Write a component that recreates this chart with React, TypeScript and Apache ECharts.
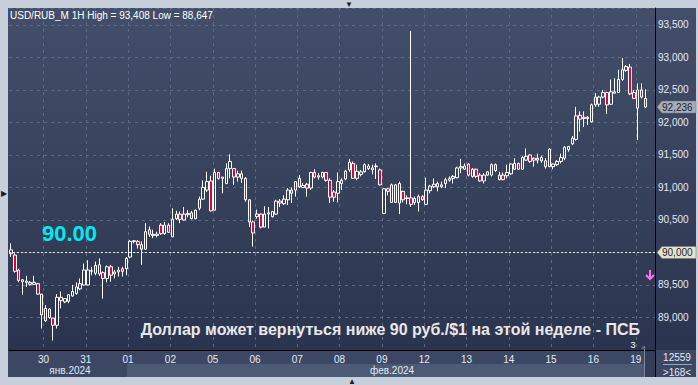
import React, { useEffect, useRef } from 'react';
import * as echarts from 'echarts';

// Each candle: [open, close, low, high]
const jan29 = [[89.98,90.04,89.93,90.14],[89.96,89.71,89.69,89.99],[89.73,89.57,89.54,89.75],[89.55,89.58,89.35,89.59],[89.54,89.56,89.47,89.64],[89.54,89.51,89.49,89.56],[89.51,89.54,89.50,89.64],[89.52,89.36,89.35,89.53],[89.36,89.04,88.83,89.36]];
const jan30 = [[88.95,89.14,88.93,89.19],[89.13,89.00,88.98,89.14],[88.99,88.88,88.647,88.99],[88.88,89.31,88.83,89.36],[89.31,89.26,89.14,89.40],[89.24,89.29,89.22,89.30],[89.25,89.35,89.22,89.36],[89.33,89.40,89.32,89.50],[89.37,89.47,89.35,89.54],[89.44,89.52,89.42,89.60],[89.50,89.73,89.49,89.83]];
const jan31 = [[89.50,89.73,89.50,89.88],[89.71,89.72,89.65,89.78],[89.80,89.68,89.65,89.86],[89.67,89.81,89.64,89.91],[89.69,89.60,89.29,89.71],[89.60,89.78,89.54,89.80],[89.78,89.65,89.55,89.81],[89.67,89.70,89.60,89.73],[89.70,89.73,89.63,89.78],[89.75,89.71,89.63,89.78],[89.75,89.91,89.65,89.93]];
const feb01 = [[89.93,90.17,89.91,90.19],[90.17,90.18,90.14,90.19],[90.17,90.12,90.06,90.19],[90.12,90.05,89.81,90.17],[90.05,90.32,90.04,90.45],[90.35,90.28,90.24,90.40],[90.28,90.26,90.22,90.35],[90.26,90.28,90.23,90.32],[90.42,90.29,90.27,90.45],[90.29,90.42,90.27,90.47],[90.42,90.31,90.30,90.45]];
const feb02 = [[90.24,90.51,90.24,90.68],[90.52,90.59,90.50,90.64],[90.59,90.51,90.45,90.63],[90.50,90.59,90.49,90.70],[90.60,90.58,90.54,90.65],[90.61,90.52,90.51,90.64],[90.52,90.65,90.51,90.66],[90.68,90.82,90.65,90.86],[90.82,91.00,90.81,91.11],[90.96,91.09,90.93,91.24],[91.10,90.64,90.63,91.18]];
const feb05 = [[90.65,91.23,90.65,91.29],[91.23,91.14,91.12,91.24],[91.14,91.16,90.91,91.16],[91.06,91.29,91.05,91.37],[91.29,91.40,91.14,91.51],[91.29,91.16,91.04,91.30],[91.16,91.21,91.09,91.26],[91.21,91.14,91.07,91.26],[91.14,90.81,90.78,91.16],[90.81,90.47,90.39,90.82],[90.47,90.30,90.09,90.49]];
const feb06 = [[90.55,90.59,90.52,90.66],[90.59,90.39,90.37,90.60],[90.39,90.59,90.39,90.71],[90.59,90.61,90.37,90.70],[90.55,90.63,90.54,90.64],[90.59,90.79,90.58,90.81],[90.79,90.76,90.70,90.82],[90.75,90.82,90.73,90.88],[90.81,90.96,90.73,90.99],[90.96,90.91,90.76,91.00],[90.96,91.09,90.86,91.09]];
const feb07 = [[91.14,91.01,90.99,91.19],[91.00,91.03,90.99,91.07],[91.05,90.99,90.86,91.07],[90.99,91.23,90.96,91.24],[91.23,91.16,91.14,91.28],[91.16,91.18,91.12,91.22],[91.16,91.23,91.14,91.24],[91.23,91.11,91.09,91.24],[91.11,90.85,90.76,91.14],[90.93,90.85,90.78,90.96],[90.91,91.09,90.77,91.23]];
const feb08 = [[91.06,91.11,90.96,91.14],[91.13,91.25,91.11,91.27],[91.27,91.39,91.24,91.44],[91.37,91.14,91.13,91.40],[91.14,91.25,91.11,91.35],[91.20,91.24,91.17,91.27],[91.24,91.35,91.23,91.37],[91.29,91.33,91.27,91.36],[91.30,91.27,91.20,91.35],[91.32,91.33,91.13,91.37],[91.27,91.04,91.03,91.29]];
const feb09 = [[90.60,90.98,90.59,90.99],[90.98,90.94,90.88,90.99],[90.77,91.04,90.76,91.06],[91.04,90.77,90.76,91.05],[90.76,91.06,90.59,91.09],[90.94,90.81,90.77,90.95],[90.83,90.84,90.74,90.88],[90.84,90.74,90.70,93.408],[90.77,90.83,90.73,90.86],[90.77,90.86,90.63,90.89],[90.86,90.81,90.79,90.88]];
const feb12 = [[90.74,90.96,90.73,91.15],[90.95,91.02,90.91,91.04],[91.01,91.05,90.99,91.14],[91.06,91.01,90.94,91.09],[91.01,91.04,90.99,91.09],[91.06,91.12,90.99,91.15],[91.11,91.14,91.09,91.17],[91.14,91.17,91.06,91.19],[91.15,91.30,91.14,91.32],[91.30,91.32,91.22,91.44],[91.28,91.33,91.27,91.37]];
const feb13 = [[91.36,91.19,91.17,91.37],[91.17,91.28,91.15,91.30],[91.28,91.17,91.14,91.29],[91.19,91.10,91.09,91.22],[91.10,91.19,91.06,91.22],[91.19,91.24,91.18,91.25],[91.19,91.35,91.17,91.37],[91.35,91.26,91.24,91.37],[91.12,91.19,91.11,91.24],[91.19,91.12,91.11,91.23],[91.18,91.23,91.14,91.35]];
const feb14 = [[91.21,91.36,91.19,91.37],[91.28,91.37,91.27,91.45],[91.37,91.28,91.27,91.38],[91.28,91.46,91.27,91.48],[91.42,91.48,91.41,91.60],[91.50,91.40,91.38,91.51],[91.42,91.45,91.32,91.46],[91.45,91.42,91.37,91.52],[91.46,91.41,91.38,91.49],[91.41,91.32,91.29,91.45],[91.32,91.59,91.31,91.60]];
const feb15 = [[91.32,91.36,91.28,91.37],[91.35,91.40,91.33,91.42],[91.40,91.46,91.37,91.52],[91.45,91.62,91.42,91.64],[91.58,91.63,91.55,91.64],[91.67,91.76,91.65,91.79],[91.74,92.10,91.72,92.24],[92.11,92.05,91.86,92.17],[92.06,92.08,91.93,92.17],[92.08,92.06,91.96,92.10],[92.01,92.27,92.00,92.29]];
const feb16 = [[92.27,92.39,92.24,92.45],[92.28,92.39,92.24,92.41],[92.39,92.46,92.37,92.50],[92.46,92.27,92.13,92.47],[92.28,92.47,92.27,92.66],[92.45,92.47,92.45,92.68],[92.46,92.66,92.45,92.81],[92.66,92.81,92.64,92.99],[92.80,92.86,92.78,92.88],[92.85,92.44,92.42,92.90],[92.46,92.37,92.36,92.50]];
const feb19 = [[92.22,92.50,91.73,92.60],[92.50,92.39,92.37,92.60],[92.37,92.236,92.22,92.51]];

const dayLabels = ['29','30','31','01','02','05','06','07','08','09','12','13','14','15','16','19'];
const days = [jan29, jan30, jan31, feb01, feb02, feb05, feb06, feb07, feb08, feb09, feb12, feb13, feb14, feb15, feb16, feb19];
const emptySlots = 2;
const yTickStep = 0.5;
const yMin = 88.5;
const yMax = 93.76;
const levelLine = 90;
const headerText = 'USD/RUB_M 1H High = 93,408 Low = 88,647';
const levelText = '90.00';
const newsText = 'Доллар может вернуться ниже 90 руб./$1 на этой неделе - ПСБ';
const monthLabels = ['янв.2024', 'фев.2024'];

const FONT = '"Liberation Sans", Arial, sans-serif';

export default function App() {
  const ref = useRef<HTMLDivElement>(null);
  useEffect(() => {
    if (!ref.current) return;
    const chart = echarts.init(ref.current, null, { renderer: 'svg' });

    const categories: string[] = [];
    const dayStart = new Set<number>();
    const data: number[][] = [];
    days.forEach((d, di) => {
      d.forEach((c, k) => {
        if (k === 0) dayStart.add(categories.length);
        categories.push(dayLabels[di] + '|' + k);
        data.push(c);
      });
    });
    for (let i = 0; i < emptySlots; i++) categories.push('|pad' + i);

    const fmt = (v: number) => v.toFixed(3).replace('.', ',');

    chart.setOption({
      animation: false,
      backgroundColor: '#c7cfda',
      grid: { left: 9, right: 43, top: 8, bottom: 35, show: false },
      xAxis: {
        type: 'category',
        data: categories,
        boundaryGap: true,
        axisLine: { show: true, onZero: false, lineStyle: { color: '#000000', width: 1 } },
        axisTick: { show: false },
        axisLabel: {
          interval: (i: number) => i > 0 && dayStart.has(i),
          formatter: (v: string) => v.split('|')[0],
          color: '#e3e9f5',
          fontSize: 10,
          fontFamily: FONT,
          margin: 4,
          padding: [0, 4, 0, 0],
        },
        splitLine: {
          show: true,
          interval: (i: number) => i > 0 && dayStart.has(i),
          lineStyle: { color: '#5c6984', type: [3, 4], width: 1 },
        },
      },
      yAxis: {
        type: 'value',
        position: 'right',
        min: yMin,
        max: yMax,
        interval: yTickStep,
        scale: true,
        axisLine: { show: true, lineStyle: { color: '#000000', width: 1 } },
        axisTick: { show: false },
        axisLabel: {
          color: '#e3e9f5',
          fontSize: 10,
          fontFamily: FONT,
          margin: 3,
          formatter: (v: number) => {
            const r = Math.round(v / yTickStep) * yTickStep;
            if (Math.abs(r - v) > 1e-6 || v <= yMin + 1e-6) return '';
            if (Math.abs(v - levelLine) < 1e-6) return ''; // covered by the level tag
            return fmt(v);
          },
        },
        splitLine: { show: true, lineStyle: { color: '#5c6984', type: [3, 4], width: 1 } },
      },
      series: [
        {
          type: 'candlestick',
          data,
          barWidth: 3,
          itemStyle: {
            color: 'rgba(0,0,0,0)',
            color0: '#e6003a',
            borderColor: '#ffffff',
            borderColor0: '#ffffff',
            borderWidth: 1,
          },
          markLine: {
            silent: true,
            symbol: 'none',
            label: { show: false },
            lineStyle: { color: '#e8e8e8', type: [2, 2], width: 1 },
            data: [{ yAxis: levelLine }],
          },
        },
      ],
    });

    const lastClose = feb19[feb19.length - 1][1];
    const yLast = chart.convertToPixel({ yAxisIndex: 0 }, lastClose) as number;
    const yLevel = chart.convertToPixel({ yAxisIndex: 0 }, levelLine) as number;

    const bgGrad = new echarts.graphic.LinearGradient(0, 0, 0, 1, [
      { offset: 0, color: '#434f6a' },
      { offset: 1, color: '#2b344e' },
    ]);

    const tag = (y: number, text: string, fill: string) => [
      {
        type: 'polygon',
        z: 20,
        shape: { points: [[657, y], [662, y - 6], [696, y - 6], [696, y + 6], [662, y + 6]] },
        style: { fill, stroke: '#6a7080', lineWidth: 0.5 },
      },
      {
        type: 'text', z: 21, x: 662, y,
        style: { text, fill: '#1c2336', font: `10px ${FONT}`, verticalAlign: 'middle', align: 'left' },
      },
    ];

    chart.setOption({
      graphic: [
        // backgrounds
        { type: 'rect', z: -10, shape: { x: 8, y: 8, width: 688, height: 342 }, style: { fill: bgGrad } },
        { type: 'rect', z: -10, shape: { x: 8, y: 350, width: 647, height: 27 }, style: { fill: '#3b4763' } },
        { type: 'rect', z: -9, shape: { x: 127, y: 364, width: 518, height: 13 }, style: { fill: '#4d5a75' } },
        { type: 'rect', z: -9, shape: { x: 645, y: 350, width: 10, height: 27 }, style: { fill: '#323d58' } },
        { type: 'line', z: 5, shape: { x1: 644.5, y1: 346, x2: 644.5, y2: 377 }, style: { stroke: '#7d879b', lineWidth: 1 } },
        { type: 'rect', z: -10, shape: { x: 655, y: 350, width: 41, height: 27 }, style: { fill: '#3b4763' } },
        { type: 'line', z: 5, shape: { x1: 655.5, y1: 350, x2: 655.5, y2: 377 }, style: { stroke: '#000000', lineWidth: 1 } },
        { type: 'line', z: 5, shape: { x1: 663, y1: 364.5, x2: 692, y2: 364.5 }, style: { stroke: '#9aa4b8', lineWidth: 1 } },
        // frame arrows
        { type: 'text', z: 5, x: 4, y: 193, style: { text: '▶', fill: '#1b1f2a', font: `8px ${FONT}`, align: 'center', verticalAlign: 'middle' } },
        { type: 'text', z: 5, x: 349, y: 4, style: { text: '▼', fill: '#1b1f2a', font: `8px ${FONT}`, align: 'center', verticalAlign: 'middle' } },
        { type: 'text', z: 5, x: 352, y: 381, style: { text: '▲', fill: '#1b1f2a', font: `8px ${FONT}`, align: 'center', verticalAlign: 'middle' } },
        // texts
        { type: 'text', z: 10, x: 10, y: 15, style: { text: headerText, fill: '#ffffff', font: `10px ${FONT}`, verticalAlign: 'middle', align: 'left' } },
        { type: 'text', z: 10, x: 42, y: 233, style: { text: levelText, fill: '#00e8f2', font: `bold 22px ${FONT}`, verticalAlign: 'middle', align: 'left' } },
        { type: 'text', z: 10, x: 640, y: 329, style: { text: newsText, fill: '#e8e8e8', font: `bold 16px ${FONT}`, verticalAlign: 'middle', align: 'right' } },
        // pink down arrow marker
        { type: 'line', z: 10, shape: { x1: 650, y1: 270, x2: 650, y2: 279 }, style: { stroke: '#ff72f4', lineWidth: 2 } },
        { type: 'polyline', z: 10, shape: { points: [[646, 275], [650, 279], [654, 275]] }, style: { stroke: '#ff72f4', lineWidth: 2, fill: 'none' } },
        { type: 'text', z: 10, x: 633, y: 345, style: { text: '3', fill: '#ffffff', font: `9px ${FONT}`, verticalAlign: 'middle', align: 'center' } },
        { type: 'text', z: 10, x: 643, y: 347, style: { text: '▲', fill: '#5b6275', font: `6px ${FONT}`, verticalAlign: 'middle', align: 'center' } },
        { type: 'text', z: 10, x: 70, y: 370, style: { text: monthLabels[0], fill: '#e3e9f5', font: `10px ${FONT}`, verticalAlign: 'middle', align: 'center' } },
        { type: 'text', z: 10, x: 392, y: 370, style: { text: monthLabels[1], fill: '#e3e9f5', font: `10px ${FONT}`, verticalAlign: 'middle', align: 'center' } },
        { type: 'text', z: 10, x: 677, y: 357, style: { text: '12559', fill: '#e3e9f5', font: `10px ${FONT}`, verticalAlign: 'middle', align: 'center' } },
        { type: 'text', z: 10, x: 677, y: 372, style: { text: '>168<', fill: '#e3e9f5', font: `10px ${FONT}`, verticalAlign: 'middle', align: 'center' } },
        ...tag(yLast, fmt(lastClose), '#a6acb5'),
        ...tag(yLevel, fmt(levelLine), '#e4e4c8'),
      ],
    });

    return () => chart.dispose();
  }, []);

  return <div ref={ref} style={{ position: 'absolute', left: 0, top: 0, width: 698, height: 385 }} />;
}
